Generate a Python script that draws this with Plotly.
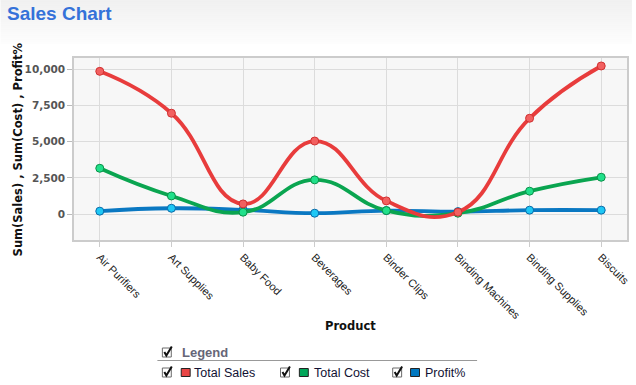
import plotly.graph_objects as go

products = ["Air Purifiers", "Art Supplies", "Baby Food", "Beverages",
            "Binder Clips", "Binding Machines", "Binding Supplies", "Biscuits"]
total_sales = [9860, 6970, 710, 5050, 920, 140, 6620, 10230]
total_cost = [3170, 1260, 140, 2370, 250, 70, 1590, 2550]
profit_pct = [210, 410, 300, 70, 250, 180, 280, 280]
y_ticks = [0, 2500, 5000, 7500, 10000]

W, H = 636, 385
L, R, T, B = 74, 5, 58, 145
PW, PH = W - L - R, H - T - B


def px(x):
    return (x - L) / PW


def py(y):
    return (H - B - y) / PH


fig = go.Figure()

series = [
    ("Profit%", profit_pct, "#0a78c2", "#1ec8f5", "#0a6aa8"),
    ("Total Cost", total_cost, "#0aa550", "#20e08a", "#0a9048"),
    ("Total Sales", total_sales, "#e83c3c", "#f26060", "#d03030"),
]
for name, vals, lc, mc, ml in series:
    fig.add_trace(go.Scatter(
        x=products, y=vals, name=name, mode="lines+markers",
        line=dict(color=lc, width=3.8, shape="spline", smoothing=1.3),
        marker=dict(size=8, color=mc, line=dict(color=ml, width=1)),
        showlegend=False, hoverinfo="skip",
    ))

shapes = []
# header stripes
for i in range(22):
    yy = 1 + i * 2
    g = int(0xe2 + (0xfb - 0xe2) * i / 21)
    shapes.append(dict(type="line", xref="paper", yref="paper",
                       x0=px(0), x1=px(W), y0=py(yy), y1=py(yy),
                       line=dict(color=f"rgb({g},{g},{g})", width=1)))

# legend separator
shapes.append(dict(type="line", xref="paper", yref="paper",
                   x0=px(158), x1=px(480), y0=py(360.5), y1=py(360.5),
                   line=dict(color="#999999", width=1)))


def checkbox(x, y):
    shapes.append(dict(type="rect", xref="paper", yref="paper",
                       x0=px(x), x1=px(x + 9), y0=py(y), y1=py(y + 9),
                       fillcolor="white", line=dict(color="#6a6a6a", width=1)))
    path = (f"M {px(x + 2)} {py(y + 4)} L {px(x + 4)} {py(y + 7.5)} "
            f"L {px(x + 9.5)} {py(y - 1.5)}")
    shapes.append(dict(type="path", xref="paper", yref="paper", path=path,
                       line=dict(color="#111111", width=2)))


checkbox(163, 348)
row_y = 368
legend_items = [("Total Sales", "#e84545", 163, 182, 193),
                ("Total Cost", "#00a659", 282, 301, 314),
                ("Profit%", "#0078c0", 395, 413, 426)]
annotations = []
for name, col, cbx, sqx, tx in legend_items:
    checkbox(cbx, row_y)
    shapes.append(dict(type="rect", xref="paper", yref="paper",
                       x0=px(sqx), x1=px(sqx + 9), y0=py(row_y + 0.5), y1=py(row_y + 8.5),
                       fillcolor=col, line=dict(color="#222222", width=1)))
    annotations.append(dict(text=name, xref="paper", yref="paper",
                            x=px(tx), y=py(row_y + 4.5), xanchor="left", yanchor="middle",
                            showarrow=False,
                            font=dict(family="Liberation Sans, Arial", size=12.5, color="#111133")))

annotations.append(dict(text="<b>Legend</b>", xref="paper", yref="paper",
                        x=px(181), y=py(352.5), xanchor="left", yanchor="middle",
                        showarrow=False,
                        font=dict(family="Liberation Sans, Arial", size=13, color="#666677")))
annotations.append(dict(text="<b>Sales Chart</b>", xref="paper", yref="paper",
                        x=px(4), y=py(14), xanchor="left", yanchor="middle",
                        showarrow=False,
                        font=dict(family="Liberation Sans, Arial", size=19, color="#3572d9")))
annotations.append(dict(text="<b>Sum(Sales) , Sum(Cost) , Profit%</b>", xref="paper", yref="paper",
                        x=px(18), y=py(258), xanchor="center", yanchor="bottom",
                        textangle=-90, showarrow=False,
                        font=dict(family="DejaVu Sans", size=11.5, color="#111111")))
annotations.append(dict(text="<b>Product</b>", xref="paper", yref="paper",
                        x=px(352), y=py(326), xanchor="center", yanchor="middle",
                        showarrow=False,
                        font=dict(family="DejaVu Sans", size=11.5, color="#111111")))

fig.update_layout(
    width=W, height=H,
    margin=dict(l=L, r=R, t=T, b=B),
    paper_bgcolor="white",
    plot_bgcolor="#f7f7f7",
    shapes=shapes,
    annotations=annotations,
    showlegend=False,
    hovermode=False,
    xaxis=dict(
        range=[-0.36, 7.36], showgrid=True, gridcolor="#dcdcdc", gridwidth=1,
        tickangle=45, ticks="outside", ticklen=5, tickcolor="#cccccc",
        showline=True, linecolor="#cccccc", linewidth=1.5, mirror=True,
        tickfont=dict(family="Liberation Sans, Arial", size=11, color="#222222"),
        zeroline=False, fixedrange=True,
    ),
    yaxis=dict(
        range=[-1780, 10780], tickvals=y_ticks, tickformat=",",
        showgrid=True, gridcolor="#dcdcdc", gridwidth=1,
        ticks="outside", ticklen=5, tickcolor="#bbbbbb",
        showline=True, linecolor="#cccccc", linewidth=1.5, mirror=True,
        tickfont=dict(family="DejaVu Sans", size=10.5, color="#555555", weight="bold"),
        zeroline=False, fixedrange=True,
    ),
)

fig.write_html("out.html", config={"displayModeBar": False},
               post_script="document.body.style.margin='0px';document.body.style.overflow='hidden';")
